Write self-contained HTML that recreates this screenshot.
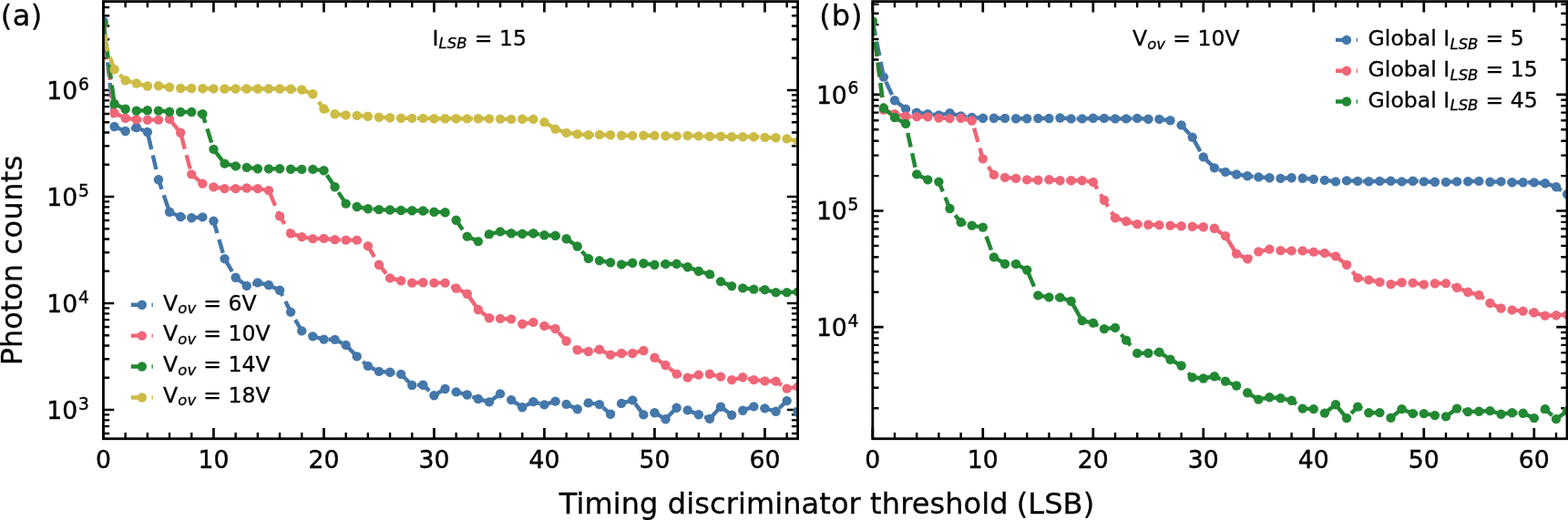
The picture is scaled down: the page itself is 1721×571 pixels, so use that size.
<!DOCTYPE html>
<html lang="en"><head><meta charset="utf-8"><title>Photon counts vs timing discriminator threshold</title>
<style>html,body{margin:0;padding:0;background:#fff}body{width:1721px;height:571px;overflow:hidden}svg{display:block;font-family:"DejaVu Sans","Liberation Sans",sans-serif;fill:#000}.it{font-style:oblique}.tk{stroke:#000;stroke-width:.4px}.lg{stroke:#000;stroke-width:.3px;white-space:pre}.ax{stroke:#000;stroke-width:.3px}</style></head><body>
<svg width="1721" height="571" viewBox="0 0 1721 571">
<rect width="1721" height="571" fill="#fff"/>
<defs>
<clipPath id="clipL"><rect x="113.45" y="1.6" width="762.15" height="480.15"/></clipPath>
<clipPath id="clipR"><rect x="957.8" y="1.6" width="762.2" height="480.15"/></clipPath>
</defs>
<path d="M113.45 481.75v-11.8M113.45 1.6v11.8M234.45 481.75v-11.8M234.45 1.6v11.8M355.45 481.75v-11.8M355.45 1.6v11.8M476.45 481.75v-11.8M476.45 1.6v11.8M597.45 481.75v-11.8M597.45 1.6v11.8M718.45 481.75v-11.8M718.45 1.6v11.8M839.45 481.75v-11.8M839.45 1.6v11.8M113.45 450h11.8M875.6 450h-11.8M113.45 333h11.8M875.6 333h-11.8M113.45 216h11.8M875.6 216h-11.8M113.45 99h11.8M875.6 99h-11.8" stroke="#000" stroke-width="2.7" fill="none"/>
<path d="M137.65 481.75v-6.7M137.65 1.6v6.7M161.85 481.75v-6.7M161.85 1.6v6.7M186.05 481.75v-6.7M186.05 1.6v6.7M210.25 481.75v-6.7M210.25 1.6v6.7M258.65 481.75v-6.7M258.65 1.6v6.7M282.85 481.75v-6.7M282.85 1.6v6.7M307.05 481.75v-6.7M307.05 1.6v6.7M331.25 481.75v-6.7M331.25 1.6v6.7M379.65 481.75v-6.7M379.65 1.6v6.7M403.85 481.75v-6.7M403.85 1.6v6.7M428.05 481.75v-6.7M428.05 1.6v6.7M452.25 481.75v-6.7M452.25 1.6v6.7M500.65 481.75v-6.7M500.65 1.6v6.7M524.85 481.75v-6.7M524.85 1.6v6.7M549.05 481.75v-6.7M549.05 1.6v6.7M573.25 481.75v-6.7M573.25 1.6v6.7M621.65 481.75v-6.7M621.65 1.6v6.7M645.85 481.75v-6.7M645.85 1.6v6.7M670.05 481.75v-6.7M670.05 1.6v6.7M694.25 481.75v-6.7M694.25 1.6v6.7M742.65 481.75v-6.7M742.65 1.6v6.7M766.85 481.75v-6.7M766.85 1.6v6.7M791.05 481.75v-6.7M791.05 1.6v6.7M815.25 481.75v-6.7M815.25 1.6v6.7M863.65 481.75v-6.7M863.65 1.6v6.7M113.45 475.96h6.7M875.6 475.96h-6.7M113.45 468.12h6.7M875.6 468.12h-6.7M113.45 461.34h6.7M875.6 461.34h-6.7M113.45 455.35h6.7M875.6 455.35h-6.7M113.45 414.78h6.7M875.6 414.78h-6.7M113.45 394.18h6.7M875.6 394.18h-6.7M113.45 379.56h6.7M875.6 379.56h-6.7M113.45 368.22h6.7M875.6 368.22h-6.7M113.45 358.96h6.7M875.6 358.96h-6.7M113.45 351.12h6.7M875.6 351.12h-6.7M113.45 344.34h6.7M875.6 344.34h-6.7M113.45 338.35h6.7M875.6 338.35h-6.7M113.45 297.78h6.7M875.6 297.78h-6.7M113.45 277.18h6.7M875.6 277.18h-6.7M113.45 262.56h6.7M875.6 262.56h-6.7M113.45 251.22h6.7M875.6 251.22h-6.7M113.45 241.96h6.7M875.6 241.96h-6.7M113.45 234.12h6.7M875.6 234.12h-6.7M113.45 227.34h6.7M875.6 227.34h-6.7M113.45 221.35h6.7M875.6 221.35h-6.7M113.45 180.78h6.7M875.6 180.78h-6.7M113.45 160.18h6.7M875.6 160.18h-6.7M113.45 145.56h6.7M875.6 145.56h-6.7M113.45 134.22h6.7M875.6 134.22h-6.7M113.45 124.96h6.7M875.6 124.96h-6.7M113.45 117.12h6.7M875.6 117.12h-6.7M113.45 110.34h6.7M875.6 110.34h-6.7M113.45 104.35h6.7M875.6 104.35h-6.7M113.45 63.78h6.7M875.6 63.78h-6.7M113.45 43.18h6.7M875.6 43.18h-6.7M113.45 28.56h6.7M875.6 28.56h-6.7M113.45 17.22h6.7M875.6 17.22h-6.7M113.45 7.96h6.7M875.6 7.96h-6.7" stroke="#000" stroke-width="2.4" fill="none"/>
<path d="M957.8 481.75v-11.8M957.8 1.6v11.8M1078.8 481.75v-11.8M1078.8 1.6v11.8M1199.8 481.75v-11.8M1199.8 1.6v11.8M1320.8 481.75v-11.8M1320.8 1.6v11.8M1441.8 481.75v-11.8M1441.8 1.6v11.8M1562.8 481.75v-11.8M1562.8 1.6v11.8M1683.8 481.75v-11.8M1683.8 1.6v11.8M957.8 359.1h11.8M1720 359.1h-11.8M957.8 231.5h11.8M1720 231.5h-11.8M957.8 103.9h11.8M1720 103.9h-11.8" stroke="#000" stroke-width="2.7" fill="none"/>
<path d="M982 481.75v-6.7M982 1.6v6.7M1006.2 481.75v-6.7M1006.2 1.6v6.7M1030.4 481.75v-6.7M1030.4 1.6v6.7M1054.6 481.75v-6.7M1054.6 1.6v6.7M1103 481.75v-6.7M1103 1.6v6.7M1127.2 481.75v-6.7M1127.2 1.6v6.7M1151.4 481.75v-6.7M1151.4 1.6v6.7M1175.6 481.75v-6.7M1175.6 1.6v6.7M1224 481.75v-6.7M1224 1.6v6.7M1248.2 481.75v-6.7M1248.2 1.6v6.7M1272.4 481.75v-6.7M1272.4 1.6v6.7M1296.6 481.75v-6.7M1296.6 1.6v6.7M1345 481.75v-6.7M1345 1.6v6.7M1369.2 481.75v-6.7M1369.2 1.6v6.7M1393.4 481.75v-6.7M1393.4 1.6v6.7M1417.6 481.75v-6.7M1417.6 1.6v6.7M1466 481.75v-6.7M1466 1.6v6.7M1490.2 481.75v-6.7M1490.2 1.6v6.7M1514.4 481.75v-6.7M1514.4 1.6v6.7M1538.6 481.75v-6.7M1538.6 1.6v6.7M1587 481.75v-6.7M1587 1.6v6.7M1611.2 481.75v-6.7M1611.2 1.6v6.7M1635.4 481.75v-6.7M1635.4 1.6v6.7M1659.6 481.75v-6.7M1659.6 1.6v6.7M1708 481.75v-6.7M1708 1.6v6.7M957.8 448.29h6.7M1720 448.29h-6.7M957.8 425.82h6.7M1720 425.82h-6.7M957.8 409.88h6.7M1720 409.88h-6.7M957.8 397.51h6.7M1720 397.51h-6.7M957.8 387.41h6.7M1720 387.41h-6.7M957.8 378.87h6.7M1720 378.87h-6.7M957.8 371.47h6.7M1720 371.47h-6.7M957.8 364.94h6.7M1720 364.94h-6.7M957.8 320.69h6.7M1720 320.69h-6.7M957.8 298.22h6.7M1720 298.22h-6.7M957.8 282.28h6.7M1720 282.28h-6.7M957.8 269.91h6.7M1720 269.91h-6.7M957.8 259.81h6.7M1720 259.81h-6.7M957.8 251.27h6.7M1720 251.27h-6.7M957.8 243.87h6.7M1720 243.87h-6.7M957.8 237.34h6.7M1720 237.34h-6.7M957.8 193.09h6.7M1720 193.09h-6.7M957.8 170.62h6.7M1720 170.62h-6.7M957.8 154.68h6.7M1720 154.68h-6.7M957.8 142.31h6.7M1720 142.31h-6.7M957.8 132.21h6.7M1720 132.21h-6.7M957.8 123.67h6.7M1720 123.67h-6.7M957.8 116.27h6.7M1720 116.27h-6.7M957.8 109.74h6.7M1720 109.74h-6.7M957.8 65.49h6.7M1720 65.49h-6.7M957.8 43.02h6.7M1720 43.02h-6.7M957.8 27.08h6.7M1720 27.08h-6.7M957.8 14.71h6.7M1720 14.71h-6.7M957.8 4.61h6.7M1720 4.61h-6.7" stroke="#000" stroke-width="2.4" fill="none"/>
<g clip-path="url(#clipL)">
<path fill="none" stroke="#4477AA" stroke-width="4.44" stroke-linejoin="round" d="M113.45 23.3L115.09 38.98M115.8 45.79L117.45 61.55M118.16 68.37L119.81 84.13M120.52 90.94L122.17 106.71M122.89 113.52L124.53 129.28M125.25 136.1L125.55 139L137.5 143.94M144 141.9L149.75 140L158.8 143.74M162.65 148.46L166.23 163.9M167.78 170.57L171.36 186.01M172.9 192.69L173.95 197.2L177.56 207.82M179.76 214.31L184.86 229.31M188.96 234.05L198.15 238L203.97 238.58M210.79 239.16L222.35 238.4L226.38 239.8M232.85 242.04L234.45 242.6L238.41 256.19M240.33 262.76L244.77 277.98M246.79 284.51L254.79 298.19M258.25 304.11L258.65 304.8L270.68 313.84M277.24 312.02L282.85 310.4L292.64 312.5M298.99 314.94L307.05 318.8L310.18 324.97M313.29 331.07L319.15 342.6L320.62 345.12M324.06 351.04L331.25 363.4L332.64 364.09M338.78 367.13L343.35 369.4L353.74 372.15M360.53 372.73L367.55 372.9L375.46 376.82M381.16 380.46L391.75 391.4M391.75 391.4L393.15 392.61M398.32 397.1L403.85 401.9L411.49 405.69M417.82 408.02L428.05 408.7L433.56 409.7M440.26 411.01L451.46 422.21M457.98 422.86L464.35 422.7L471.22 429.23M476.19 433.95L476.45 434.2L488.55 427L489.91 427.38M496.5 429.23L500.65 430.4L511.83 433.26M518.28 435.56L524.85 438L533.36 440.39M539.46 439.54L549.05 432.4L552.45 434.29M558.45 437.6L561.15 439.1L571.75 446.2M577.76 444.93L585.35 441.1L592.44 443.03M599.03 443.9L609.55 440.6L614.2 441.87M620.81 443.67L621.65 443.9L633.75 449.2L635.3 448.33M641.27 444.98L645.85 442.4L656.34 443.87M661.88 447.54L670.05 454.7L673.62 451.22M678.53 446.44L682.15 442.9L692.51 439.9M697.29 443.42L706.35 455.4L707.17 455.25M713.91 454.03L718.45 453.2L728.17 458.82M733.4 457.25L742.65 447.7L745.14 448.26M751.83 449.75L754.75 450.4L766.7 455.14M773.09 457.62L778.95 459.9M778.95 459.9L788.44 449.54M793.45 448.49L803.15 455.7L806.63 454.26M812.96 451.65L815.25 450.7L827.35 446.4L827.87 446.49M834.63 447.6L839.45 448.4L850.03 451.29M855.36 448.05L863.65 440.1L866.67 443.25M871.42 448.19L875.75 452.7"/>
<g fill="#4477AA"><circle cx="113.45" cy="23.3" r="5.2"/><circle cx="125.55" cy="139" r="5.2"/><circle cx="137.65" cy="144" r="5.2"/><circle cx="149.75" cy="140" r="5.2"/><circle cx="161.85" cy="145" r="5.2"/><circle cx="173.95" cy="197.2" r="5.2"/><circle cx="186.05" cy="232.8" r="5.2"/><circle cx="198.15" cy="238" r="5.2"/><circle cx="210.25" cy="239.2" r="5.2"/><circle cx="222.35" cy="238.4" r="5.2"/><circle cx="234.45" cy="242.6" r="5.2"/><circle cx="246.55" cy="284.1" r="5.2"/><circle cx="258.65" cy="304.8" r="5.2"/><circle cx="270.75" cy="313.9" r="5.2"/><circle cx="282.85" cy="310.4" r="5.2"/><circle cx="294.95" cy="313" r="5.2"/><circle cx="307.05" cy="318.8" r="5.2"/><circle cx="319.15" cy="342.6" r="5.2"/><circle cx="331.25" cy="363.4" r="5.2"/><circle cx="343.35" cy="369.4" r="5.2"/><circle cx="355.45" cy="372.6" r="5.2"/><circle cx="367.55" cy="372.9" r="5.2"/><circle cx="379.65" cy="378.9" r="5.2"/><circle cx="391.75" cy="391.4" r="5.2"/><circle cx="403.85" cy="401.9" r="5.2"/><circle cx="415.95" cy="407.9" r="5.2"/><circle cx="428.05" cy="408.7" r="5.2"/><circle cx="440.15" cy="410.9" r="5.2"/><circle cx="452.25" cy="423" r="5.2"/><circle cx="464.35" cy="422.7" r="5.2"/><circle cx="476.45" cy="434.2" r="5.2"/><circle cx="488.55" cy="427" r="5.2"/><circle cx="500.65" cy="430.4" r="5.2"/><circle cx="512.75" cy="433.5" r="5.2"/><circle cx="524.85" cy="438" r="5.2"/><circle cx="536.95" cy="441.4" r="5.2"/><circle cx="549.05" cy="432.4" r="5.2"/><circle cx="561.15" cy="439.1" r="5.2"/><circle cx="573.25" cy="447.2" r="5.2"/><circle cx="585.35" cy="441.1" r="5.2"/><circle cx="597.45" cy="444.4" r="5.2"/><circle cx="609.55" cy="440.6" r="5.2"/><circle cx="621.65" cy="443.9" r="5.2"/><circle cx="633.75" cy="449.2" r="5.2"/><circle cx="645.85" cy="442.4" r="5.2"/><circle cx="657.95" cy="444.1" r="5.2"/><circle cx="670.05" cy="454.7" r="5.2"/><circle cx="682.15" cy="442.9" r="5.2"/><circle cx="694.25" cy="439.4" r="5.2"/><circle cx="706.35" cy="455.4" r="5.2"/><circle cx="718.45" cy="453.2" r="5.2"/><circle cx="730.55" cy="460.2" r="5.2"/><circle cx="742.65" cy="447.7" r="5.2"/><circle cx="754.75" cy="450.4" r="5.2"/><circle cx="766.85" cy="455.2" r="5.2"/><circle cx="778.95" cy="459.9" r="5.2"/><circle cx="791.05" cy="446.7" r="5.2"/><circle cx="803.15" cy="455.7" r="5.2"/><circle cx="815.25" cy="450.7" r="5.2"/><circle cx="827.35" cy="446.4" r="5.2"/><circle cx="839.45" cy="448.4" r="5.2"/><circle cx="851.55" cy="451.7" r="5.2"/><circle cx="863.65" cy="440.1" r="5.2"/><circle cx="875.75" cy="452.7" r="5.2"/></g>
<path fill="none" stroke="#EE6677" stroke-width="4.44" stroke-linejoin="round" d="M113.47 26.93L115.42 42.66M116.27 49.45L118.23 65.18M119.07 71.98L121.03 87.71M121.88 94.51L123.84 110.24M124.68 117.03L125.55 124L133.51 127.82M139.89 130.08L149.75 131.3L155.67 131.45M162.51 131.6L173.95 131.6L178.35 131.31M185.19 130.86L186.05 130.8L195.46 142.47M198.81 148.28L202.87 163.6M204.63 170.22L208.7 185.54M210.85 191.91L222.35 201.6L223.13 201.84M229.66 203.9L234.45 205.4L245.17 206.91M252.01 207.1L258.65 207.1L267.85 206.64M274.69 206.7L282.85 207.1L290.43 208.35M295.84 211.18L302.07 225.76M304.77 232.06L307.05 237.4L312.44 245.87M316.12 251.65L319.15 256.4L328.92 259.39M335.6 260.82L343.35 262.1L351.34 261.97M358.18 262.17L367.55 263.1L373.98 263.37M380.82 263.6L391.75 263.6L396.09 265.93M402.12 269.17L403.85 270.1L410.88 282.08M414.35 287.98L415.95 290.7L424.02 300.5M428.55 305.51L440.15 308.2L444.01 308.97M450.73 310.3L452.25 310.6L464.35 310.3L466.55 310.35M473.4 310.52L476.45 310.6L488.55 310.6L489.18 310.9M495.33 313.91L500.65 316.5L509.49 321.03M514.58 325.31L523.66 338.3M528.65 342.89L536.95 349.2L542.37 349.51M549.21 349.91L561.15 350.4L564.72 351.96M570.99 354.71L573.25 355.7L585.35 353.9L586.44 354.26M592.95 356.41L597.45 357.9L608.21 360.66M613.2 365.07L621.65 374.5L624.14 376.49M629.48 380.78L633.75 384.2L644.02 385.73M651.65 384.94L657.95 383.8L666.47 387.89M672.91 389.22L682.15 388L688.68 388M695.49 387.69L706.35 385L710.27 387.53M716.03 391.24L718.45 392.8L729.18 400.07M734.62 404.23L742.65 410.6L747.97 412.36M754.47 414.51L754.75 414.6L766.85 411.6L769.94 411.4M776.77 410.94L778.95 410.8L791.05 413.6L792.25 413.95M798.83 415.85L803.15 417.1L814.21 414.54M820.88 415.6L827.35 417.1L836.51 418.08M843.34 418.46L851.55 418.6L857.92 422.81M863.64 426.59L863.65 426.6L875.75 424.6"/>
<g fill="#EE6677"><circle cx="113.45" cy="26.8" r="5.2"/><circle cx="125.55" cy="124" r="5.2"/><circle cx="137.65" cy="129.8" r="5.2"/><circle cx="149.75" cy="131.3" r="5.2"/><circle cx="161.85" cy="131.6" r="5.2"/><circle cx="173.95" cy="131.6" r="5.2"/><circle cx="186.05" cy="130.8" r="5.2"/><circle cx="198.15" cy="145.8" r="5.2"/><circle cx="210.25" cy="191.4" r="5.2"/><circle cx="222.35" cy="201.6" r="5.2"/><circle cx="234.45" cy="205.4" r="5.2"/><circle cx="246.55" cy="207.1" r="5.2"/><circle cx="258.65" cy="207.1" r="5.2"/><circle cx="270.75" cy="206.5" r="5.2"/><circle cx="282.85" cy="207.1" r="5.2"/><circle cx="294.95" cy="209.1" r="5.2"/><circle cx="307.05" cy="237.4" r="5.2"/><circle cx="319.15" cy="256.4" r="5.2"/><circle cx="331.25" cy="260.1" r="5.2"/><circle cx="343.35" cy="262.1" r="5.2"/><circle cx="355.45" cy="261.9" r="5.2"/><circle cx="367.55" cy="263.1" r="5.2"/><circle cx="379.65" cy="263.6" r="5.2"/><circle cx="391.75" cy="263.6" r="5.2"/><circle cx="403.85" cy="270.1" r="5.2"/><circle cx="415.95" cy="290.7" r="5.2"/><circle cx="428.05" cy="305.4" r="5.2"/><circle cx="440.15" cy="308.2" r="5.2"/><circle cx="452.25" cy="310.6" r="5.2"/><circle cx="464.35" cy="310.3" r="5.2"/><circle cx="476.45" cy="310.6" r="5.2"/><circle cx="488.55" cy="310.6" r="5.2"/><circle cx="500.65" cy="316.5" r="5.2"/><circle cx="512.75" cy="322.7" r="5.2"/><circle cx="524.85" cy="340" r="5.2"/><circle cx="536.95" cy="349.2" r="5.2"/><circle cx="549.05" cy="349.9" r="5.2"/><circle cx="561.15" cy="350.4" r="5.2"/><circle cx="573.25" cy="355.7" r="5.2"/><circle cx="585.35" cy="353.9" r="5.2"/><circle cx="597.45" cy="357.9" r="5.2"/><circle cx="609.55" cy="361" r="5.2"/><circle cx="621.65" cy="374.5" r="5.2"/><circle cx="633.75" cy="384.2" r="5.2"/><circle cx="645.85" cy="386" r="5.2"/><circle cx="657.95" cy="383.8" r="5.2"/><circle cx="670.05" cy="389.6" r="5.2"/><circle cx="682.15" cy="388" r="5.2"/><circle cx="694.25" cy="388" r="5.2"/><circle cx="706.35" cy="385" r="5.2"/><circle cx="718.45" cy="392.8" r="5.2"/><circle cx="730.55" cy="401" r="5.2"/><circle cx="742.65" cy="410.6" r="5.2"/><circle cx="754.75" cy="414.6" r="5.2"/><circle cx="766.85" cy="411.6" r="5.2"/><circle cx="778.95" cy="410.8" r="5.2"/><circle cx="791.05" cy="413.6" r="5.2"/><circle cx="803.15" cy="417.1" r="5.2"/><circle cx="815.25" cy="414.3" r="5.2"/><circle cx="827.35" cy="417.1" r="5.2"/><circle cx="839.45" cy="418.4" r="5.2"/><circle cx="851.55" cy="418.6" r="5.2"/><circle cx="863.65" cy="426.6" r="5.2"/><circle cx="875.75" cy="424.6" r="5.2"/></g>
<path fill="none" stroke="#228833" stroke-width="4.44" stroke-linejoin="round" d="M113.47 25.97L115.63 41.67M116.56 48.46L118.71 64.16M119.64 70.95L121.8 86.65M122.73 93.44L124.88 109.14M127.31 114.84L137.65 119.8L141.98 120.44M148.76 121.45L149.75 121.6L161.85 121.3L164.59 121.37M171.44 121.54L173.95 121.6L186.05 122.8L187.23 122.82M194.08 122.93L198.15 123L209.93 123M216.66 124.22L222.35 125.3L225.36 134.9M227.41 141.44L232.15 156.56M234.2 163.1L234.45 163.9L243.61 175.79M248.53 180.06L258.65 182.4L264.08 183.07M270.87 183.91L282.85 185.2L286.65 185.26M293.5 185.38L294.95 185.4L307.05 185.2L309.35 185.3M316.19 185.58L319.15 185.7L331.25 185.9L332.04 185.9M338.89 185.9L343.35 185.9L354.67 187.12M358.84 192.24L367.55 205.2L367.68 205.39M371.44 211.12L379.65 223.6L380.53 223.85M387.12 225.7L391.75 227L402.61 228.97M409.43 229.61L415.95 230.1L425.25 230.41M432.1 230.67L440.15 231L447.94 231.19M454.79 231.34L464.35 231.5L470.61 232.12M477.43 232.74L488.55 233.2L492.41 235.91M498.01 239.85L500.65 241.7L507.72 252.16M511.56 257.84L512.75 259.6M512.75 259.6L524.85 265.1L526.65 263.91M532.36 260.13L536.95 257.1L547.05 254.85M553.8 255.11L561.15 256.2L569.57 256.55M576.41 256.57L585.35 256.2L592.16 257.33M598.94 258.26L609.55 258.7L614.57 260.15M621.15 262.06L621.65 262.2L633.75 270.5M633.75 270.5L634.05 270.83M638.64 275.92L645.85 283.9L650.86 284.81M657.6 286.04L657.95 286.1L670.05 288.3L673.2 288.85M679.95 290.02L682.15 290.4L694.25 288.8L695.66 288.86M702.51 289.14L706.35 289.3L718.27 290.68M725.11 290.26L730.55 289.9L740.94 289.81M747.6 291.19L754.75 293.2L762.65 296.14M769.13 298.34L778.95 301.1L783.66 304.21M789.38 307.99L791.05 309.1L803.15 314.1L803.89 314.24M810.62 315.52L815.25 316.4L826.33 317.5M833.17 317.84L839.45 318.1L848.73 320.4M855.5 321.1L863.65 321.1L871.33 320.66"/>
<g fill="#228833"><circle cx="113.45" cy="25.8" r="5.2"/><circle cx="125.55" cy="114" r="5.2"/><circle cx="137.65" cy="119.8" r="5.2"/><circle cx="149.75" cy="121.6" r="5.2"/><circle cx="161.85" cy="121.3" r="5.2"/><circle cx="173.95" cy="121.6" r="5.2"/><circle cx="186.05" cy="122.8" r="5.2"/><circle cx="198.15" cy="123" r="5.2"/><circle cx="210.25" cy="123" r="5.2"/><circle cx="222.35" cy="125.3" r="5.2"/><circle cx="234.45" cy="163.9" r="5.2"/><circle cx="246.55" cy="179.6" r="5.2"/><circle cx="258.65" cy="182.4" r="5.2"/><circle cx="270.75" cy="183.9" r="5.2"/><circle cx="282.85" cy="185.2" r="5.2"/><circle cx="294.95" cy="185.4" r="5.2"/><circle cx="307.05" cy="185.2" r="5.2"/><circle cx="319.15" cy="185.7" r="5.2"/><circle cx="331.25" cy="185.9" r="5.2"/><circle cx="343.35" cy="185.9" r="5.2"/><circle cx="355.45" cy="187.2" r="5.2"/><circle cx="367.55" cy="205.2" r="5.2"/><circle cx="379.65" cy="223.6" r="5.2"/><circle cx="391.75" cy="227" r="5.2"/><circle cx="403.85" cy="229.2" r="5.2"/><circle cx="415.95" cy="230.1" r="5.2"/><circle cx="428.05" cy="230.5" r="5.2"/><circle cx="440.15" cy="231" r="5.2"/><circle cx="452.25" cy="231.3" r="5.2"/><circle cx="464.35" cy="231.5" r="5.2"/><circle cx="476.45" cy="232.7" r="5.2"/><circle cx="488.55" cy="233.2" r="5.2"/><circle cx="500.65" cy="241.7" r="5.2"/><circle cx="512.75" cy="259.6" r="5.2"/><circle cx="524.85" cy="265.1" r="5.2"/><circle cx="536.95" cy="257.1" r="5.2"/><circle cx="549.05" cy="254.4" r="5.2"/><circle cx="561.15" cy="256.2" r="5.2"/><circle cx="573.25" cy="256.7" r="5.2"/><circle cx="585.35" cy="256.2" r="5.2"/><circle cx="597.45" cy="258.2" r="5.2"/><circle cx="609.55" cy="258.7" r="5.2"/><circle cx="621.65" cy="262.2" r="5.2"/><circle cx="633.75" cy="270.5" r="5.2"/><circle cx="645.85" cy="283.9" r="5.2"/><circle cx="657.95" cy="286.1" r="5.2"/><circle cx="670.05" cy="288.3" r="5.2"/><circle cx="682.15" cy="290.4" r="5.2"/><circle cx="694.25" cy="288.8" r="5.2"/><circle cx="706.35" cy="289.3" r="5.2"/><circle cx="718.45" cy="290.7" r="5.2"/><circle cx="730.55" cy="289.9" r="5.2"/><circle cx="742.65" cy="289.8" r="5.2"/><circle cx="754.75" cy="293.2" r="5.2"/><circle cx="766.85" cy="297.7" r="5.2"/><circle cx="778.95" cy="301.1" r="5.2"/><circle cx="791.05" cy="309.1" r="5.2"/><circle cx="803.15" cy="314.1" r="5.2"/><circle cx="815.25" cy="316.4" r="5.2"/><circle cx="827.35" cy="317.6" r="5.2"/><circle cx="839.45" cy="318.1" r="5.2"/><circle cx="851.55" cy="321.1" r="5.2"/><circle cx="863.65" cy="321.1" r="5.2"/><circle cx="875.75" cy="320.4" r="5.2"/></g>
<path fill="none" stroke="#CCBB44" stroke-width="4.44" stroke-linejoin="round" d="M113.45 42L118.47 56.24M120.75 62.7L125.55 76.3L126.57 77.3M131.45 82.11L137.65 88.2L144.56 90.08M151.17 91.85L161.85 94.5L166.7 94.42M173.55 94.31L173.95 94.3L186.05 95.8L189.29 96.12M196.11 96.8L198.15 97L210.25 97L211.95 97.04M218.79 97.21L222.35 97.3L234.45 97.4L234.64 97.4M241.49 97.46L246.55 97.5L257.34 97.5M264.19 97.5L270.75 97.5L280.04 97.5M286.89 97.5L294.95 97.5L302.74 97.5M309.59 97.56L319.15 97.8L325.43 98.16M332.2 98.87L343.35 103.2L345.67 106.32M349.75 111.82L355.45 119.5L361.14 122.18M367.33 125.1L367.55 125.2L379.65 126.4L383.1 126.54M389.94 126.83L391.75 126.9L403.85 127.7L405.76 127.86M412.59 128.42L415.95 128.7L428.05 129.3L428.41 129.31M435.25 129.6L440.15 129.8L451.1 129.89M457.95 129.9L464.35 129.9L473.8 130.13M480.64 130.2L488.55 130.2L496.49 130.2M503.34 130.24L512.75 130.4L519.19 130.35M526.04 130.31L536.95 130.4L541.89 130.48M548.74 130.59L549.05 130.6L561.15 130.9L564.59 130.84M571.44 130.73L573.25 130.7L585.35 130.9L587.22 131.39M593.84 133.15L597.45 134.1L607.75 140.48M614.01 143.18L621.65 145.9L629.35 146.73M636.16 147.4L645.85 148.2L651.98 148.05M658.83 147.92L670.05 148.2L674.67 148.39M681.51 148.67L682.15 148.7L694.25 148.9L697.36 148.85M704.21 148.74L706.35 148.7L718.45 148.9L720.06 148.94M726.9 149.11L730.55 149.2L742.65 149.4L742.75 149.4M749.6 149.11L754.75 148.9L765.43 149.34M772.28 149.53L778.95 149.7L788.13 149.7M794.97 149.86L803.15 150.2L810.82 150.2M817.67 150.2L827.35 150.2L833.51 150.56M840.35 150.92L851.55 151.2L856.17 151.66M862.99 152.33L863.65 152.4L875.75 155.2"/>
<g fill="#CCBB44"><circle cx="113.45" cy="42" r="5.2"/><circle cx="125.55" cy="76.3" r="5.2"/><circle cx="137.65" cy="88.2" r="5.2"/><circle cx="149.75" cy="91.5" r="5.2"/><circle cx="161.85" cy="94.5" r="5.2"/><circle cx="173.95" cy="94.3" r="5.2"/><circle cx="186.05" cy="95.8" r="5.2"/><circle cx="198.15" cy="97" r="5.2"/><circle cx="210.25" cy="97" r="5.2"/><circle cx="222.35" cy="97.3" r="5.2"/><circle cx="234.45" cy="97.4" r="5.2"/><circle cx="246.55" cy="97.5" r="5.2"/><circle cx="258.65" cy="97.5" r="5.2"/><circle cx="270.75" cy="97.5" r="5.2"/><circle cx="282.85" cy="97.5" r="5.2"/><circle cx="294.95" cy="97.5" r="5.2"/><circle cx="307.05" cy="97.5" r="5.2"/><circle cx="319.15" cy="97.8" r="5.2"/><circle cx="331.25" cy="98.5" r="5.2"/><circle cx="343.35" cy="103.2" r="5.2"/><circle cx="355.45" cy="119.5" r="5.2"/><circle cx="367.55" cy="125.2" r="5.2"/><circle cx="379.65" cy="126.4" r="5.2"/><circle cx="391.75" cy="126.9" r="5.2"/><circle cx="403.85" cy="127.7" r="5.2"/><circle cx="415.95" cy="128.7" r="5.2"/><circle cx="428.05" cy="129.3" r="5.2"/><circle cx="440.15" cy="129.8" r="5.2"/><circle cx="452.25" cy="129.9" r="5.2"/><circle cx="464.35" cy="129.9" r="5.2"/><circle cx="476.45" cy="130.2" r="5.2"/><circle cx="488.55" cy="130.2" r="5.2"/><circle cx="500.65" cy="130.2" r="5.2"/><circle cx="512.75" cy="130.4" r="5.2"/><circle cx="524.85" cy="130.3" r="5.2"/><circle cx="536.95" cy="130.4" r="5.2"/><circle cx="549.05" cy="130.6" r="5.2"/><circle cx="561.15" cy="130.9" r="5.2"/><circle cx="573.25" cy="130.7" r="5.2"/><circle cx="585.35" cy="130.9" r="5.2"/><circle cx="597.45" cy="134.1" r="5.2"/><circle cx="609.55" cy="141.6" r="5.2"/><circle cx="621.65" cy="145.9" r="5.2"/><circle cx="633.75" cy="147.2" r="5.2"/><circle cx="645.85" cy="148.2" r="5.2"/><circle cx="657.95" cy="147.9" r="5.2"/><circle cx="670.05" cy="148.2" r="5.2"/><circle cx="682.15" cy="148.7" r="5.2"/><circle cx="694.25" cy="148.9" r="5.2"/><circle cx="706.35" cy="148.7" r="5.2"/><circle cx="718.45" cy="148.9" r="5.2"/><circle cx="730.55" cy="149.2" r="5.2"/><circle cx="742.65" cy="149.4" r="5.2"/><circle cx="754.75" cy="148.9" r="5.2"/><circle cx="766.85" cy="149.4" r="5.2"/><circle cx="778.95" cy="149.7" r="5.2"/><circle cx="791.05" cy="149.7" r="5.2"/><circle cx="803.15" cy="150.2" r="5.2"/><circle cx="815.25" cy="150.2" r="5.2"/><circle cx="827.35" cy="150.2" r="5.2"/><circle cx="839.45" cy="150.9" r="5.2"/><circle cx="851.55" cy="151.2" r="5.2"/><circle cx="863.65" cy="152.4" r="5.2"/><circle cx="875.75" cy="155.2" r="5.2"/></g>
</g>
<g clip-path="url(#clipR)">
<path fill="none" stroke="#4477AA" stroke-width="4.44" stroke-linejoin="round" d="M957.8 23.4L960.87 38.91M962.2 45.63L965.27 61.18M966.6 67.9L969.67 83.45M972.32 89.74L979.07 104.08M981.99 110.28L982 110.3L994.1 119.6L994.63 119.78M1001.1 122.03L1006.2 123.8L1016.59 124.92M1023.4 125.65L1030.4 126.4L1039.08 124.89M1045.78 125.14L1054.6 127.4L1061.29 128.23M1068.1 128.99L1078.8 129.7L1083.92 129.7M1090.77 129.7L1090.9 129.7L1103 129.9L1106.62 129.99M1113.47 130.16L1115.1 130.2L1127.2 130.2L1129.32 130.16M1136.17 130.05L1139.3 130L1151.4 130L1152.02 129.97M1158.86 129.69L1163.5 129.5L1174.68 130.33M1181.52 130.4L1187.7 130.4L1197.36 129.92M1204.21 129.84L1211.9 129.9L1220.05 130.24M1226.9 130.4L1236.1 130.4L1242.74 130.13M1249.58 130L1260.3 130.8L1265.4 130.84M1272.25 130.9L1272.4 130.9L1284.5 132.3L1287.75 133.67M1294.06 136.33L1296.6 137.4L1305.45 147.05M1309.69 152.38L1317.38 166.24M1320.7 172.23L1320.8 172.4L1331.91 183.42M1338.02 186.3L1345 188.9L1353.21 190.66M1359.94 191.92L1369.2 193.3L1375.66 193.89M1382.49 194.48L1393.4 195.2L1398.31 195.48M1405.15 195.88L1405.5 195.9L1417.6 195.2L1420.97 195.34M1427.82 195.62L1429.7 195.7L1441.8 196.7L1443.61 196.88M1450.43 197.56L1453.9 197.9L1466 199.4L1466.17 199.39M1473 198.82L1478.1 198.4L1488.82 198.84M1495.67 199.04L1502.3 199.2L1511.51 198.97M1518.36 198.83L1526.5 198.7L1534.2 199.15M1541.04 199.26L1550.7 198.7L1556.86 199.06M1563.7 199.42L1574.9 199.7L1579.55 199.78M1586.39 199.89L1587 199.9L1599.1 199.4L1602.23 199.35M1609.08 199.23L1611.2 199.2L1623.3 198.9L1624.93 199.01M1631.76 199.46L1635.4 199.7L1647.5 199.4L1647.6 199.41M1654.43 199.86L1659.6 200.2L1670.27 200.2M1677.12 200.29L1683.8 200.4L1692.95 201M1699.6 202.42L1708 205.2L1713.84 209.06M1719.55 212.84L1720.1 213.2"/>
<g fill="#4477AA"><circle cx="957.8" cy="23.4" r="5.2"/><circle cx="969.9" cy="84.6" r="5.2"/><circle cx="982" cy="110.3" r="5.2"/><circle cx="994.1" cy="119.6" r="5.2"/><circle cx="1006.2" cy="123.8" r="5.2"/><circle cx="1018.3" cy="125.1" r="5.2"/><circle cx="1030.4" cy="126.4" r="5.2"/><circle cx="1042.5" cy="124.3" r="5.2"/><circle cx="1054.6" cy="127.4" r="5.2"/><circle cx="1066.7" cy="128.9" r="5.2"/><circle cx="1078.8" cy="129.7" r="5.2"/><circle cx="1090.9" cy="129.7" r="5.2"/><circle cx="1103" cy="129.9" r="5.2"/><circle cx="1115.1" cy="130.2" r="5.2"/><circle cx="1127.2" cy="130.2" r="5.2"/><circle cx="1139.3" cy="130" r="5.2"/><circle cx="1151.4" cy="130" r="5.2"/><circle cx="1163.5" cy="129.5" r="5.2"/><circle cx="1175.6" cy="130.4" r="5.2"/><circle cx="1187.7" cy="130.4" r="5.2"/><circle cx="1199.8" cy="129.8" r="5.2"/><circle cx="1211.9" cy="129.9" r="5.2"/><circle cx="1224" cy="130.4" r="5.2"/><circle cx="1236.1" cy="130.4" r="5.2"/><circle cx="1248.2" cy="129.9" r="5.2"/><circle cx="1260.3" cy="130.8" r="5.2"/><circle cx="1272.4" cy="130.9" r="5.2"/><circle cx="1284.5" cy="132.3" r="5.2"/><circle cx="1296.6" cy="137.4" r="5.2"/><circle cx="1308.7" cy="150.6" r="5.2"/><circle cx="1320.8" cy="172.4" r="5.2"/><circle cx="1332.9" cy="184.4" r="5.2"/><circle cx="1345" cy="188.9" r="5.2"/><circle cx="1357.1" cy="191.5" r="5.2"/><circle cx="1369.2" cy="193.3" r="5.2"/><circle cx="1381.3" cy="194.4" r="5.2"/><circle cx="1393.4" cy="195.2" r="5.2"/><circle cx="1405.5" cy="195.9" r="5.2"/><circle cx="1417.6" cy="195.2" r="5.2"/><circle cx="1429.7" cy="195.7" r="5.2"/><circle cx="1441.8" cy="196.7" r="5.2"/><circle cx="1453.9" cy="197.9" r="5.2"/><circle cx="1466" cy="199.4" r="5.2"/><circle cx="1478.1" cy="198.4" r="5.2"/><circle cx="1490.2" cy="198.9" r="5.2"/><circle cx="1502.3" cy="199.2" r="5.2"/><circle cx="1514.4" cy="198.9" r="5.2"/><circle cx="1526.5" cy="198.7" r="5.2"/><circle cx="1538.6" cy="199.4" r="5.2"/><circle cx="1550.7" cy="198.7" r="5.2"/><circle cx="1562.8" cy="199.4" r="5.2"/><circle cx="1574.9" cy="199.7" r="5.2"/><circle cx="1587" cy="199.9" r="5.2"/><circle cx="1599.1" cy="199.4" r="5.2"/><circle cx="1611.2" cy="199.2" r="5.2"/><circle cx="1623.3" cy="198.9" r="5.2"/><circle cx="1635.4" cy="199.7" r="5.2"/><circle cx="1647.5" cy="199.4" r="5.2"/><circle cx="1659.6" cy="200.2" r="5.2"/><circle cx="1671.7" cy="200.2" r="5.2"/><circle cx="1683.8" cy="200.4" r="5.2"/><circle cx="1695.9" cy="201.2" r="5.2"/><circle cx="1708" cy="205.2" r="5.2"/><circle cx="1720.1" cy="213.2" r="5.2"/></g>
<path fill="none" stroke="#EE6677" stroke-width="4.44" stroke-linejoin="round" d="M957.8 24L959.75 39.54M960.6 46.34L962.57 62.06M963.42 68.86L965.4 84.59M966.25 91.38L968.22 107.11M969.07 113.91L969.9 120.5L978.51 123.77M985.04 125.78L994.1 127.8L1000.66 127.96M1007.51 128.13L1018.3 128.4L1023.33 128.9M1030.15 129.58L1030.4 129.6L1042.5 130.1L1045.99 130.01M1052.83 129.84L1054.6 129.8L1066.7 132.5L1067.17 134.12M1069.07 140.7L1073.47 155.93M1075.37 162.51L1078.8 174.4L1080.78 177.26M1084.67 182.89L1090.9 191.9L1095.65 193.08M1102.3 194.73L1103 194.9L1115.1 195.9L1118.07 196.27M1124.86 197.11L1127.2 197.4L1139.3 197.7L1140.69 197.64M1147.54 197.36L1151.4 197.2L1163.34 198.19M1170.19 198.2L1175.6 198.2L1186.04 198.2M1192.84 198.92L1199.8 199.9L1204.38 207.44M1207.94 213.29L1211.9 219.8L1216.26 226.79M1219.88 232.6L1224 239.2L1231.7 241.62M1238.27 243.55L1248.2 246.1L1253.79 246.42M1260.62 246.81L1272.4 247.1L1276.47 247.27M1283.31 247.55L1284.5 247.6L1296.6 248.2L1299.14 248.31M1305.99 248.59L1308.7 248.7L1320.8 249.3L1321.81 249.43M1328.61 250.27L1332.9 250.8L1342.41 257.32M1346.95 262.25L1355.31 275.72M1360.22 280.09L1369.2 284.4L1374.11 281.15M1379.83 277.37L1381.3 276.4L1393.4 273.6L1395.05 273.8M1401.85 274.65L1405.5 275.1L1417.6 275.4L1417.67 275.4M1424.52 275.4L1429.7 275.4L1440.31 276.45M1446.27 277.08L1453.9 277.9L1461.76 280.17M1467.93 282.88L1478.1 290.7L1480.04 293.01M1484.45 298.26L1490.2 305.1L1496.99 306.39M1503.72 307.68L1514.4 309.8L1519.27 310.73M1526 312.01L1526.5 312.1L1538.6 310.3L1541.71 310.38M1548.56 310.55L1550.7 310.6L1562.8 312.4L1564.27 312.27M1571.09 311.65L1574.9 311.3L1586.92 311.1M1593.33 313.51L1599.1 315.7L1608.05 319.4M1614.52 321.6L1623.3 324L1628.78 327.94M1634.34 331.94L1635.4 332.7L1647.5 338.5L1648.61 338.67M1655.38 339.74L1659.6 340.4L1671.12 341.54M1677.9 342.47L1683.8 343.3L1693.35 345.9M1700.1 346.5L1708 346.3L1715.94 345.84"/>
<g fill="#EE6677"><circle cx="957.8" cy="24" r="5.2"/><circle cx="969.9" cy="120.5" r="5.2"/><circle cx="982" cy="125.1" r="5.2"/><circle cx="994.1" cy="127.8" r="5.2"/><circle cx="1006.2" cy="128.1" r="5.2"/><circle cx="1018.3" cy="128.4" r="5.2"/><circle cx="1030.4" cy="129.6" r="5.2"/><circle cx="1042.5" cy="130.1" r="5.2"/><circle cx="1054.6" cy="129.8" r="5.2"/><circle cx="1066.7" cy="132.5" r="5.2"/><circle cx="1078.8" cy="174.4" r="5.2"/><circle cx="1090.9" cy="191.9" r="5.2"/><circle cx="1103" cy="194.9" r="5.2"/><circle cx="1115.1" cy="195.9" r="5.2"/><circle cx="1127.2" cy="197.4" r="5.2"/><circle cx="1139.3" cy="197.7" r="5.2"/><circle cx="1151.4" cy="197.2" r="5.2"/><circle cx="1163.5" cy="198.2" r="5.2"/><circle cx="1175.6" cy="198.2" r="5.2"/><circle cx="1187.7" cy="198.2" r="5.2"/><circle cx="1199.8" cy="199.9" r="5.2"/><circle cx="1211.9" cy="219.8" r="5.2"/><circle cx="1224" cy="239.2" r="5.2"/><circle cx="1236.1" cy="243" r="5.2"/><circle cx="1248.2" cy="246.1" r="5.2"/><circle cx="1260.3" cy="246.8" r="5.2"/><circle cx="1272.4" cy="247.1" r="5.2"/><circle cx="1284.5" cy="247.6" r="5.2"/><circle cx="1296.6" cy="248.2" r="5.2"/><circle cx="1308.7" cy="248.7" r="5.2"/><circle cx="1320.8" cy="249.3" r="5.2"/><circle cx="1332.9" cy="250.8" r="5.2"/><circle cx="1345" cy="259.1" r="5.2"/><circle cx="1357.1" cy="278.6" r="5.2"/><circle cx="1369.2" cy="284.4" r="5.2"/><circle cx="1381.3" cy="276.4" r="5.2"/><circle cx="1393.4" cy="273.6" r="5.2"/><circle cx="1405.5" cy="275.1" r="5.2"/><circle cx="1417.6" cy="275.4" r="5.2"/><circle cx="1429.7" cy="275.4" r="5.2"/><circle cx="1441.8" cy="276.6" r="5.2"/><circle cx="1453.9" cy="277.9" r="5.2"/><circle cx="1466" cy="281.4" r="5.2"/><circle cx="1478.1" cy="290.7" r="5.2"/><circle cx="1490.2" cy="305.1" r="5.2"/><circle cx="1502.3" cy="307.4" r="5.2"/><circle cx="1514.4" cy="309.8" r="5.2"/><circle cx="1526.5" cy="312.1" r="5.2"/><circle cx="1538.6" cy="310.3" r="5.2"/><circle cx="1550.7" cy="310.6" r="5.2"/><circle cx="1562.8" cy="312.4" r="5.2"/><circle cx="1574.9" cy="311.3" r="5.2"/><circle cx="1587" cy="311.1" r="5.2"/><circle cx="1599.1" cy="315.7" r="5.2"/><circle cx="1611.2" cy="320.7" r="5.2"/><circle cx="1623.3" cy="324" r="5.2"/><circle cx="1635.4" cy="332.7" r="5.2"/><circle cx="1647.5" cy="338.5" r="5.2"/><circle cx="1659.6" cy="340.4" r="5.2"/><circle cx="1671.7" cy="341.6" r="5.2"/><circle cx="1683.8" cy="343.3" r="5.2"/><circle cx="1695.9" cy="346.6" r="5.2"/><circle cx="1708" cy="346.3" r="5.2"/><circle cx="1720.1" cy="345.6" r="5.2"/></g>
<path fill="none" stroke="#228833" stroke-width="4.44" stroke-linejoin="round" d="M957.8 23.42L959.8 39.15M960.66 45.94L962.66 61.66M963.52 68.46L965.52 84.18M966.38 90.98L968.38 106.7M969.24 113.5L969.9 118.7L977.98 125.58M983.36 129.78L994.1 135.9L994.84 139.31M996.3 146L999.68 161.49M1001.14 168.18L1004.51 183.67M1005.97 190.36L1006.2 191.4L1018.3 197.4L1019.56 197.63M1026.3 198.85L1030.4 199.6L1034.85 210.4M1037.45 216.73L1042.5 229L1044.12 231.01M1048.42 236.34L1054.6 244L1060.36 245.72M1066.94 247.64L1078.8 249.6L1080.12 253.19M1082.5 259.62L1087.98 274.49M1090.35 280.91L1090.9 282.4L1103 289.7L1103.13 289.7M1109.98 289.82L1115.1 289.9L1124.52 295.04M1128.71 299.99L1135.02 314.53M1137.74 320.81L1139.3 324.4L1151.08 326.35M1157.92 326.51L1163.5 326.6L1173.2 329.97M1177.82 334.71L1185.65 348.49M1190.35 352.65L1199.8 354.6L1205.26 357.53M1211.29 360.77L1211.9 361.1L1224 359.9L1225.99 362.15M1230.52 367.28L1236.1 373.6L1240.9 379.27M1245.32 384.5L1248.2 387.9L1259.59 387.71M1266.42 387.19L1272.4 386.7L1280.62 392.13M1286.41 395.77L1296.6 401.5L1299.45 404.54M1304.13 409.53L1308.7 414.4L1317.84 415.23M1324.61 414.78L1332.9 413.2L1339.67 416.22M1345.94 418.98L1357.1 423.5L1360.3 425.56M1366.06 429.27L1369.2 431.3L1379.57 437.56M1386.04 437.7L1393.4 436.3L1401.73 436.99M1408.51 437.9L1417.6 439.7L1422.9 443.6M1428.42 447.66L1429.7 448.6L1441.8 449.1L1443.82 449.85M1450.24 452.24L1453.9 453.6L1463.37 446.32M1468.24 447.03L1478.1 459.1L1478.28 458.91M1483.05 453.99L1490.2 446.6L1495.07 449.3M1501.06 452.62L1502.3 453.3L1514.4 453.1L1516.51 454.11M1522.68 457.07L1526.5 458.9L1535.53 451.59M1541.28 450.21L1550.7 454.1L1556.35 454.1M1563.2 454.17L1574.9 456.1L1578.87 456.53M1585.68 457.26L1587 457.4L1598.74 448.86M1605.26 450.38L1611.2 452.1L1620.86 451.86M1627.7 451.55L1635.4 451.1L1643.18 453.48M1649.82 454.51L1659.6 453.3L1665.59 453.55M1672.37 454.09L1683.8 459.1L1686.4 456.95M1691.68 452.59L1695.9 449.1L1703.58 456.08M1708.71 459.59L1720.1 451.3"/>
<g fill="#228833"><circle cx="957.8" cy="23.4" r="5.2"/><circle cx="969.9" cy="118.7" r="5.2"/><circle cx="982" cy="129" r="5.2"/><circle cx="994.1" cy="135.9" r="5.2"/><circle cx="1006.2" cy="191.4" r="5.2"/><circle cx="1018.3" cy="197.4" r="5.2"/><circle cx="1030.4" cy="199.6" r="5.2"/><circle cx="1042.5" cy="229" r="5.2"/><circle cx="1054.6" cy="244" r="5.2"/><circle cx="1066.7" cy="247.6" r="5.2"/><circle cx="1078.8" cy="249.6" r="5.2"/><circle cx="1090.9" cy="282.4" r="5.2"/><circle cx="1103" cy="289.7" r="5.2"/><circle cx="1115.1" cy="289.9" r="5.2"/><circle cx="1127.2" cy="296.5" r="5.2"/><circle cx="1139.3" cy="324.4" r="5.2"/><circle cx="1151.4" cy="326.4" r="5.2"/><circle cx="1163.5" cy="326.6" r="5.2"/><circle cx="1175.6" cy="330.8" r="5.2"/><circle cx="1187.7" cy="352.1" r="5.2"/><circle cx="1199.8" cy="354.6" r="5.2"/><circle cx="1211.9" cy="361.1" r="5.2"/><circle cx="1224" cy="359.9" r="5.2"/><circle cx="1236.1" cy="373.6" r="5.2"/><circle cx="1248.2" cy="387.9" r="5.2"/><circle cx="1260.3" cy="387.7" r="5.2"/><circle cx="1272.4" cy="386.7" r="5.2"/><circle cx="1284.5" cy="394.7" r="5.2"/><circle cx="1296.6" cy="401.5" r="5.2"/><circle cx="1308.7" cy="414.4" r="5.2"/><circle cx="1320.8" cy="415.5" r="5.2"/><circle cx="1332.9" cy="413.2" r="5.2"/><circle cx="1345" cy="418.6" r="5.2"/><circle cx="1357.1" cy="423.5" r="5.2"/><circle cx="1369.2" cy="431.3" r="5.2"/><circle cx="1381.3" cy="438.6" r="5.2"/><circle cx="1393.4" cy="436.3" r="5.2"/><circle cx="1405.5" cy="437.3" r="5.2"/><circle cx="1417.6" cy="439.7" r="5.2"/><circle cx="1429.7" cy="448.6" r="5.2"/><circle cx="1441.8" cy="449.1" r="5.2"/><circle cx="1453.9" cy="453.6" r="5.2"/><circle cx="1466" cy="444.3" r="5.2"/><circle cx="1478.1" cy="459.1" r="5.2"/><circle cx="1490.2" cy="446.6" r="5.2"/><circle cx="1502.3" cy="453.3" r="5.2"/><circle cx="1514.4" cy="453.1" r="5.2"/><circle cx="1526.5" cy="458.9" r="5.2"/><circle cx="1538.6" cy="449.1" r="5.2"/><circle cx="1550.7" cy="454.1" r="5.2"/><circle cx="1562.8" cy="454.1" r="5.2"/><circle cx="1574.9" cy="456.1" r="5.2"/><circle cx="1587" cy="457.4" r="5.2"/><circle cx="1599.1" cy="448.6" r="5.2"/><circle cx="1611.2" cy="452.1" r="5.2"/><circle cx="1623.3" cy="451.8" r="5.2"/><circle cx="1635.4" cy="451.1" r="5.2"/><circle cx="1647.5" cy="454.8" r="5.2"/><circle cx="1659.6" cy="453.3" r="5.2"/><circle cx="1671.7" cy="453.8" r="5.2"/><circle cx="1683.8" cy="459.1" r="5.2"/><circle cx="1695.9" cy="449.1" r="5.2"/><circle cx="1708" cy="460.1" r="5.2"/><circle cx="1720.1" cy="451.3" r="5.2"/></g>
</g>
<rect x="113.45" y="1.6" width="762.15" height="480.15" fill="none" stroke="#000" stroke-width="2.8" stroke-linejoin="miter"/>
<rect x="957.8" y="1.6" width="762.2" height="480.15" fill="none" stroke="#000" stroke-width="2.8" stroke-linejoin="miter"/>
<text class="tk" transform="translate(113.45 514.2)" font-size="26.67" text-anchor="middle">0</text>
<text class="tk" transform="translate(234.45 514.2)" font-size="26.67" text-anchor="middle">10</text>
<text class="tk" transform="translate(355.45 514.2)" font-size="26.67" text-anchor="middle">20</text>
<text class="tk" transform="translate(476.45 514.2)" font-size="26.67" text-anchor="middle">30</text>
<text class="tk" transform="translate(597.45 514.2)" font-size="26.67" text-anchor="middle">40</text>
<text class="tk" transform="translate(718.45 514.2)" font-size="26.67" text-anchor="middle">50</text>
<text class="tk" transform="translate(839.45 514.2)" font-size="26.67" text-anchor="middle">60</text>
<text class="tk" transform="translate(957.8 514.2)" font-size="26.67" text-anchor="middle">0</text>
<text class="tk" transform="translate(1078.8 514.2)" font-size="26.67" text-anchor="middle">10</text>
<text class="tk" transform="translate(1199.8 514.2)" font-size="26.67" text-anchor="middle">20</text>
<text class="tk" transform="translate(1320.8 514.2)" font-size="26.67" text-anchor="middle">30</text>
<text class="tk" transform="translate(1441.8 514.2)" font-size="26.67" text-anchor="middle">40</text>
<text class="tk" transform="translate(1562.8 514.2)" font-size="26.67" text-anchor="middle">50</text>
<text class="tk" transform="translate(1683.8 514.2)" font-size="26.67" text-anchor="middle">60</text>
<text class="tk" font-size="26.67"><tspan x="51.3" y="459.8">10</tspan><tspan x="85.89" y="449.59" font-size="18.67">3</tspan></text>
<text class="tk" font-size="26.67"><tspan x="51.3" y="342.8">10</tspan><tspan x="85.89" y="332.59" font-size="18.67">4</tspan></text>
<text class="tk" font-size="26.67"><tspan x="51.3" y="225.8">10</tspan><tspan x="85.89" y="215.59" font-size="18.67">5</tspan></text>
<text class="tk" font-size="26.67"><tspan x="51.3" y="108.8">10</tspan><tspan x="85.89" y="98.59" font-size="18.67">6</tspan></text>
<text class="tk" font-size="26.67"><tspan x="895.9" y="368.9">10</tspan><tspan x="930.49" y="358.69" font-size="18.67">4</tspan></text>
<text class="tk" font-size="26.67"><tspan x="895.9" y="241.3">10</tspan><tspan x="930.49" y="231.09" font-size="18.67">5</tspan></text>
<text class="tk" font-size="26.67"><tspan x="895.9" y="113.7">10</tspan><tspan x="930.49" y="103.49" font-size="18.67">6</tspan></text>
<text class="ax" x="613.8" y="564.2" font-size="32" letter-spacing="0.1">Timing discriminator threshold<tspan dx="-1.3"> (LSB)</tspan></text>
<text class="ax" transform="translate(24.2 401.3) rotate(-90)" font-size="32"><tspan letter-spacing="-0.05">Photon</tspan><tspan letter-spacing="0.4"> counts</tspan></text>
<text class="ax" x="0.7" y="28.1" font-size="32" letter-spacing="0.5">(a)</text>
<text class="ax" x="899.3" y="28.1" font-size="32" letter-spacing="0.9">(b)</text>
<text class="lg" transform="translate(474.4 49.8) scale(1 1.01)" font-size="23.57"><tspan x="0" y="0">I</tspan><tspan class="it" x="7.18" y="3.61" font-size="16.5">LSB</tspan><tspan x="38.81" y="0"> = 15</tspan></text>
<text class="lg" transform="translate(1242.9 50.4) scale(1 1.01)" font-size="23.57"><tspan x="0" y="0">V</tspan><tspan class="it" x="16.35" y="3.61" font-size="16.5">ov</tspan><tspan x="36.85" y="0"> = 10V</tspan></text>
<path d="M143.8 334.7h24" stroke="#4477AA" stroke-width="4.44" stroke-dasharray="15.85 6.85" fill="none"/><circle cx="155.8" cy="334.7" r="5.2" fill="#4477AA"/>
<text class="lg" transform="translate(178.95 340.7) scale(1 1.01)" font-size="23.57"><tspan x="0" y="0">V</tspan><tspan class="it" x="16.35" y="3.61" font-size="16.5">ov</tspan><tspan x="36.85" y="0"> = 6V</tspan></text>
<path d="M143.8 368.6h24" stroke="#EE6677" stroke-width="4.44" stroke-dasharray="15.85 6.85" fill="none"/><circle cx="155.8" cy="368.6" r="5.2" fill="#EE6677"/>
<text class="lg" transform="translate(178.95 374.4) scale(1 1.01)" font-size="23.57"><tspan x="0" y="0">V</tspan><tspan class="it" x="16.35" y="3.61" font-size="16.5">ov</tspan><tspan x="36.85" y="0"> = 10V</tspan></text>
<path d="M143.8 402.5h24" stroke="#228833" stroke-width="4.44" stroke-dasharray="15.85 6.85" fill="none"/><circle cx="155.8" cy="402.5" r="5.2" fill="#228833"/>
<text class="lg" transform="translate(178.95 408.1) scale(1 1.01)" font-size="23.57"><tspan x="0" y="0">V</tspan><tspan class="it" x="16.35" y="3.61" font-size="16.5">ov</tspan><tspan x="36.85" y="0"> = 14V</tspan></text>
<path d="M143.8 436.5h24" stroke="#CCBB44" stroke-width="4.44" stroke-dasharray="15.85 6.85" fill="none"/><circle cx="155.8" cy="436.5" r="5.2" fill="#CCBB44"/>
<text class="lg" transform="translate(178.95 441.8) scale(1 1.01)" font-size="23.57"><tspan x="0" y="0">V</tspan><tspan class="it" x="16.35" y="3.61" font-size="16.5">ov</tspan><tspan x="36.85" y="0"> = 18V</tspan></text>
<path d="M1466 43.9h24" stroke="#4477AA" stroke-width="4.44" stroke-dasharray="15.85 6.85" fill="none"/><circle cx="1478" cy="43.9" r="5.2" fill="#4477AA"/>
<text class="lg" transform="translate(1501.6 50.2) scale(1 1.01)" font-size="23.57"><tspan x="0" y="0">Global I</tspan><tspan class="it" x="89.86" y="3.61" font-size="16.5">LSB</tspan><tspan x="121.48" y="0"> = 5</tspan></text>
<path d="M1466 77.7h24" stroke="#EE6677" stroke-width="4.44" stroke-dasharray="15.85 6.85" fill="none"/><circle cx="1478" cy="77.7" r="5.2" fill="#EE6677"/>
<text class="lg" transform="translate(1501.6 84) scale(1 1.01)" font-size="23.57"><tspan x="0" y="0">Global I</tspan><tspan class="it" x="89.86" y="3.61" font-size="16.5">LSB</tspan><tspan x="121.48" y="0"> = 15</tspan></text>
<path d="M1466 111.5h24" stroke="#228833" stroke-width="4.44" stroke-dasharray="15.85 6.85" fill="none"/><circle cx="1478" cy="111.5" r="5.2" fill="#228833"/>
<text class="lg" transform="translate(1501.6 117.8) scale(1 1.01)" font-size="23.57"><tspan x="0" y="0">Global I</tspan><tspan class="it" x="89.86" y="3.61" font-size="16.5">LSB</tspan><tspan x="121.48" y="0"> = 45</tspan></text>
</svg></body></html>
